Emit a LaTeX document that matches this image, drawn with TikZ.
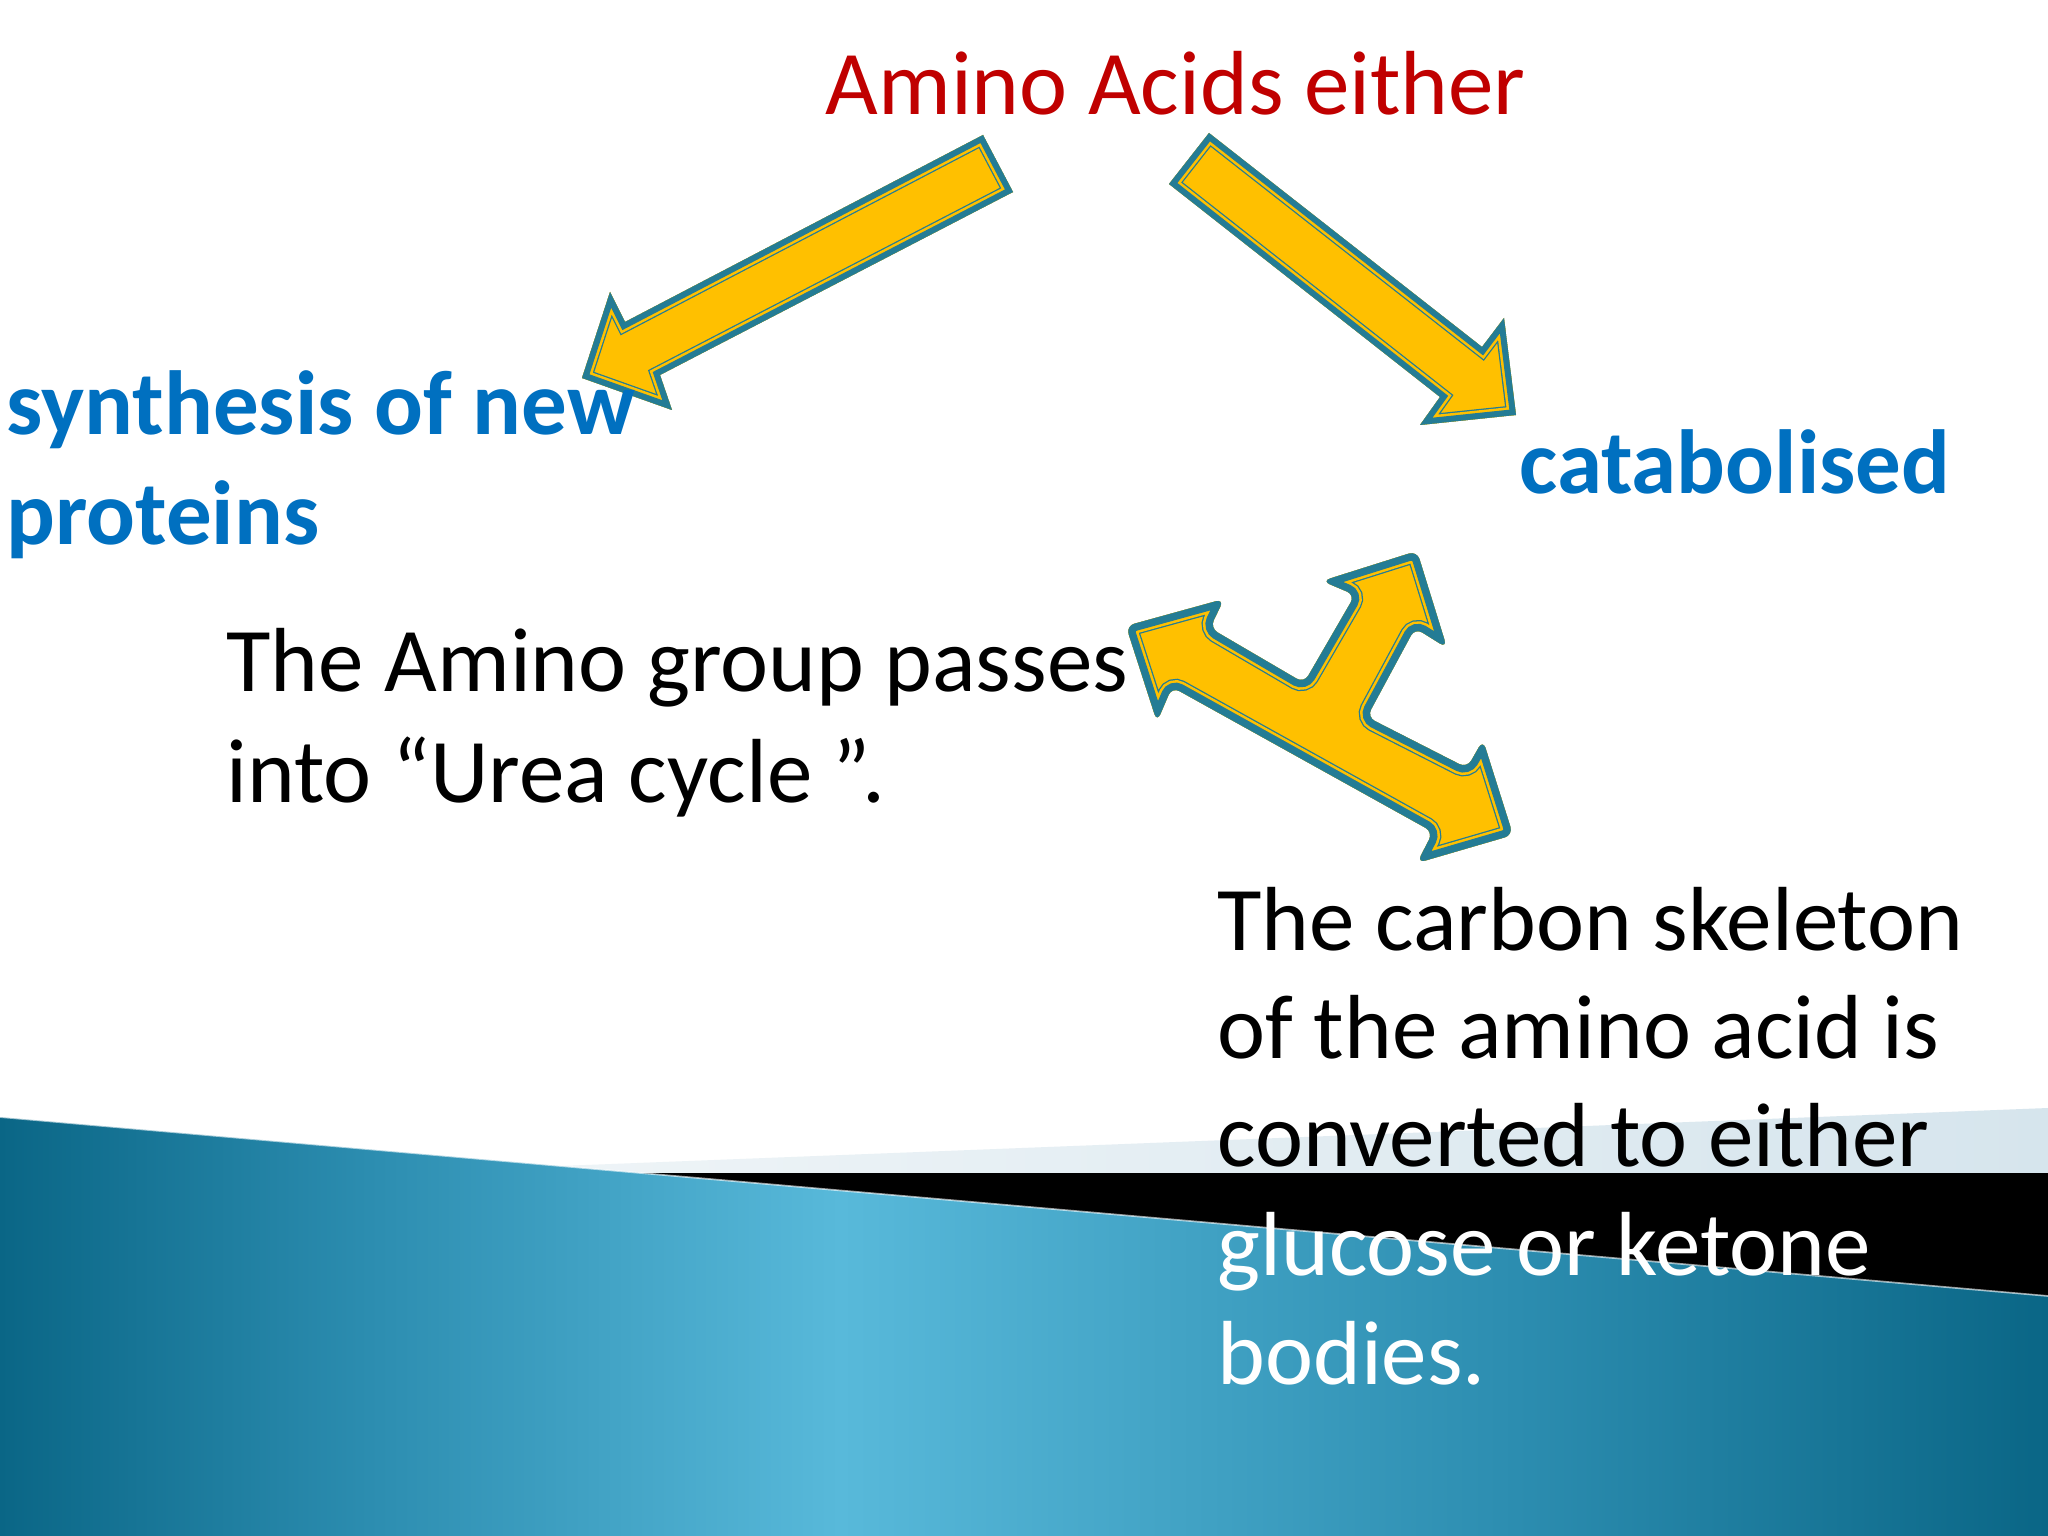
\documentclass[tikz,border=0pt]{standalone}
\usepackage{fontspec}
\setmainfont{Carlito}
\definecolor{redt}{HTML}{C00000}
\definecolor{bluet}{HTML}{0070C0}
\definecolor{arrowyel}{HTML}{FFC000}
\definecolor{arrowteal}{HTML}{247C95}
\definecolor{tealdark}{HTML}{0A6686}
\definecolor{tealmid}{HTML}{2C8DB0}
\definecolor{teallight}{HTML}{58B9DA}
\definecolor{bandlight}{HTML}{D6E5ED}
\definecolor{bandpale}{HTML}{EEF4F7}
\pgfdeclarehorizontalshading{seashade}{100bp}{color(0bp)=(tealdark); color(25bp)=(tealdark); color(34bp)=(tealmid); color(45.5bp)=(teallight); color(62bp)=(tealmid); color(75bp)=(tealdark); color(100bp)=(tealdark)}
\tikzset{
  txt/.style={anchor=base west, inner sep=0pt, font=\fontsize{32}{38.4}\selectfont},
  head/.style={txt, text=redt},
  branch/.style={txt, text=bluet, font=\fontsize{32}{38.4}\selectfont\bfseries},
  body/.style={txt, text=black},
  bodyw/.style={txt, text=white}
}
\newcommand\myblockarrow[4]{%
  \begin{scope}
    \clip[#1] #4;
    \fill[arrowyel,#1] #4;
    \draw[arrowteal, line width=#2+2.7pt, line join=miter, #1] #4;
    \draw[arrowyel, line width=#2+1.8pt, line join=miter, #1] #4;
    \draw[arrowteal, line width=#2, line join=miter, #1] #4;
  \end{scope}}
\begin{document}
\begin{tikzpicture}[x=0.3515625pt,y=-0.3515625pt]
\useasboundingbox (0,0) rectangle (2048,1536);
\fill[white] (0,0) rectangle (2048,1536);
% background bands
\shade[left color=bandpale, right color=bandlight] (560,1166) -- (2048,1108) -- (2048,1174) -- (560,1174) -- cycle;
\fill[black] (600,1173) -- (2048,1173) -- (2048,1296) -- cycle;
\shade[shading=seashade] (0,1117) -- (2048,1296) -- (2048,1536) -- (0,1536) -- cycle;
\draw[white, opacity=0.6, line width=0.6pt] (0,1117) -- (2048,1296);
% block arrows
\myblockarrow{}{4.2pt}{}{(983,135) -- (1013,192) -- (660,375) -- (672,410) -- (582,378) -- (610,292) -- (625,322) -- cycle}
\myblockarrow{}{4.2pt}{}{(1209,133) -- (1482,347) -- (1504,318) -- (1516,415) -- (1420,425) -- (1440,397) -- (1169,184) -- cycle}
\myblockarrow{rounded corners=3pt}{5.2pt}{}{(1126,626) -- (1224,599) -- (1210,628) -- (1304,683) -- (1355,595) -- (1322,581) -- (1417,551) -- (1447,648) -- (1415,628) -- (1367,717) -- (1467,768) -- (1483,740) -- (1513,835) -- (1417,863) -- (1433,832) -- (1172,687) -- (1157,722) -- cycle}
% texts
\node[head] (title) at (825,115) {Amino Acids either};
\node[branch] (syn1) at (6,435) {synthesis of new};
\node[branch] (syn2) at (6,545) {proteins};
\node[branch] (cat) at (1519,494) {catabolised};
\node[body] (am1) at (226,692) {The Amino group passes};
\node[body] (am2) at (226,802) {into “Urea cycle ”.};
\node[body] (cs1) at (1217,950) {The carbon skeleton};
\node[body] (cs2) at (1217,1058) {of the amino acid is};
\node[body] (cs3) at (1217,1166) {converted to either};
\node[bodyw] (cs4) at (1217,1275) {glucose or ketone};
\node[bodyw] (cs5) at (1217,1384) {bodies.};
\end{tikzpicture}
\end{document}
